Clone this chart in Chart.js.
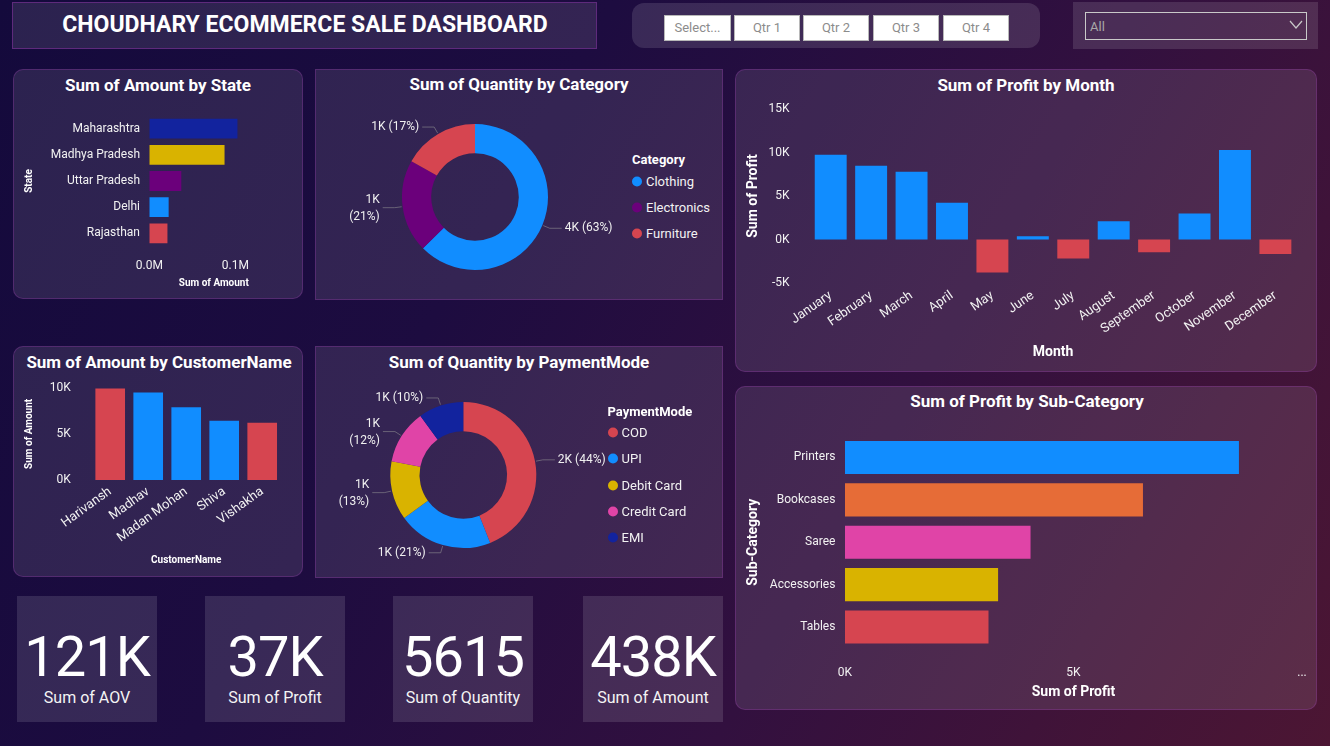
<!DOCTYPE html>
<html><head><meta charset="utf-8">
<script src="https://cdn.jsdelivr.net/npm/chart.js@4.4.1/dist/chart.umd.min.js"></script>
<style>
html,body{margin:0;padding:0}
body{width:1330px;height:746px;overflow:hidden;position:relative;font-family:Roboto,"Liberation Sans",sans-serif;color:#fff;
background:linear-gradient(120deg,#140a3c 0%,#1d0c40 35%,#32103f 65%,#4c1633 100%);}
.panel{position:absolute;background:rgba(255,255,255,0.1);border:1px solid rgba(150,60,170,0.35);border-radius:10px;box-sizing:border-box}
.t{position:absolute;transform:translate(-50%,-50%);white-space:nowrap}
.ptitle{font-size:17px;font-weight:700;color:#fff}
canvas{position:absolute}
.btn{position:absolute;top:15px;height:26px;width:66px;background:#fff;border:1px solid #b8b8b8;box-sizing:border-box;color:#8c8c8c;font-size:13px;line-height:24px;text-align:center}
.lg{position:absolute;white-space:nowrap;font-size:13px;color:#f2f2f2;transform:translateY(-50%)}
.lg i{display:inline-block;width:10px;height:10px;border-radius:50%;vertical-align:-1px;margin-right:4px}
.lgt{position:absolute;white-space:nowrap;font-size:13px;font-weight:700;color:#fff;transform:translateY(-50%)}
.card{position:absolute;top:596px;height:126px;width:140px;background:rgba(255,255,255,0.12)}
.kv{position:absolute;left:0;right:0;top:28px;text-align:center;font-size:56px;letter-spacing:-1px;line-height:66px;color:#fff}
.kl{position:absolute;left:0;right:0;top:92px;text-align:center;font-size:16px;line-height:20px;color:#f4f4f4}
</style></head><body>

<!-- header -->
<div style="position:absolute;left:12px;top:2px;width:585px;height:47px;background:rgba(255,255,255,0.1);border:1px solid #5e2a7c;box-sizing:border-box"></div>
<div class="t" style="left:305px;top:24px;font-size:23px;font-weight:700">CHOUDHARY ECOMMERCE SALE DASHBOARD</div>

<div class="panel" style="left:632px;top:3px;width:408px;height:45px;border-radius:12px;border:none;background:rgba(255,255,255,0.12)"></div>
<div class="btn" style="left:664px;width:67px">Select...</div>
<div class="btn" style="left:734px">Qtr 1</div>
<div class="btn" style="left:803px">Qtr 2</div>
<div class="btn" style="left:873px">Qtr 3</div>
<div class="btn" style="left:943px">Qtr 4</div>

<div style="position:absolute;left:1073px;top:2px;width:245px;height:47px;background:rgba(255,255,255,0.12)"></div>
<div style="position:absolute;left:1085px;top:12px;width:222px;height:28px;border:1px solid #c9c9c9;box-sizing:border-box"></div>
<div style="position:absolute;left:1090px;top:19px;font-size:13px;color:#a8a8a8">All</div>
<svg style="position:absolute;left:1289px;top:20px" width="14" height="10"><polyline points="1,1 7,8 13,1" fill="none" stroke="#c8c8c8" stroke-width="1.2"/></svg>

<!-- panels -->
<div class="panel" style="left:13px;top:69px;width:290px;height:230px"></div>
<div class="panel" style="left:315px;top:69px;width:408px;height:231px;border-radius:0"></div>
<div class="panel" style="left:735px;top:69px;width:582px;height:303px"></div>
<div class="panel" style="left:13px;top:346px;width:290px;height:231px"></div>
<div class="panel" style="left:315px;top:346px;width:408px;height:232px;border-radius:0"></div>
<div class="panel" style="left:735px;top:386px;width:582px;height:324px"></div>

<div class="t ptitle" style="left:158px;top:85px">Sum of Amount by State</div>
<div class="t ptitle" style="left:519px;top:84px">Sum of Quantity by Category</div>
<div class="t ptitle" style="left:1026px;top:85px">Sum of Profit by Month</div>
<div class="t ptitle" style="left:159px;top:362px">Sum of Amount by CustomerName</div>
<div class="t ptitle" style="left:519px;top:362px">Sum of Quantity by PaymentMode</div>
<div class="t ptitle" style="left:1027px;top:401px">Sum of Profit by Sub-Category</div>

<canvas id="cState" width="290" height="194" style="left:13px;top:105px"></canvas>
<canvas id="cCat" width="315" height="200" style="left:315px;top:100px"></canvas>
<canvas id="cMonth" width="582" height="277" style="left:735px;top:95px"></canvas>
<canvas id="cCust" width="290" height="202" style="left:13px;top:375px"></canvas>
<canvas id="cPay" width="408" height="203" style="left:315px;top:375px"></canvas>
<canvas id="cSub" width="582" height="290" style="left:735px;top:420px"></canvas>

<div id="lgCat"></div>
<div id="lgPay"></div>

<div class="card" style="left:17px"><div class="kv" id="k0"></div><div class="kl" id="l0"></div></div>
<div class="card" style="left:205px"><div class="kv" id="k1"></div><div class="kl" id="l1"></div></div>
<div class="card" style="left:393px"><div class="kv" id="k2"></div><div class="kl" id="l2"></div></div>
<div class="card" style="left:583px"><div class="kv" id="k3"></div><div class="kl" id="l3"></div></div>

<script>
// ---------- DATA ----------
const states = ['Maharashtra','Madhya Pradesh','Uttar Pradesh','Delhi','Rajasthan'];
const stateAmount = [102500, 87500, 37200, 22500, 21100];
const stateTicks = [0, 100000];

const categories = ['Clothing','Electronics','Furniture'];
const categoryQty = [3516, 1154, 945];

const months = ['January','February','March','April','May','June','July','August','September','October','November','December'];
const monthProfit = [9730, 8490, 7800, 4210, -3790, 380, -2170, 2090, -1470, 2980, 10280, -1660];

const customers = ['Harivansh','Madhav','Madan Mohan','Shiva','Vishakha'];
const customerAmount = [9902, 9470, 7870, 6420, 6200];

const payModes = ['COD','UPI','Debit Card','Credit Card','EMI'];
const payQty = [2471, 1179, 730, 674, 561];

const subCats = ['Printers','Bookcases','Saree','Accessories','Tables'];
const subProfit = [8620, 6520, 4060, 3350, 3140];

const kpiLabels = ['Sum of AOV','Sum of Profit','Sum of Quantity','Sum of Amount'];
const kpiValues = ['121K','37K','5615','438K'];

// ---------- STYLE ----------
const BLUE='#118DFF', NAVY='#12239E', ORANGE='#E66C37', PURPLE='#6B007B', PINK='#E044A7', YELLOW='#D9B300', RED='#D64550';
const TXT='#f2f2f2';
const stateColors=[NAVY,YELLOW,PURPLE,BLUE,RED];
const catColors=[BLUE,PURPLE,RED];
const custColors=[RED,BLUE,BLUE,BLUE,RED];
const payColors=[RED,BLUE,YELLOW,PINK,NAVY];
const subColors=[BLUE,ORANGE,PINK,YELLOW,RED];

Chart.defaults.font.family='Roboto, "Liberation Sans", sans-serif';
Chart.defaults.color=TXT;

const kFmt = v => (v/1000)+'K';
// tick gap done with an invisible tick length so it does not inflate layout padding
const gap = n => ({display:false, drawTicks:true, tickLength:n});
const noBorder = {display:false};
const base = {responsive:false, animation:false, plugins:{legend:{display:false}, tooltip:{enabled:false}}};

kpiValues.forEach((v,i)=>{document.getElementById('k'+i).textContent=v;document.getElementById('l'+i).textContent=kpiLabels[i];});

// ---------- donut label plugin ----------
const donutLabels = {
  id:'donutLabels',
  afterDatasetsDraw(chart){
    const {ctx}=chart;
    const meta=chart.getDatasetMeta(0);
    const data=chart.data.datasets[0].data;
    const total=data.reduce((a,b)=>a+b,0);
    ctx.save();
    ctx.font='12px Roboto, "Liberation Sans", sans-serif';
    ctx.fillStyle='#f0f0f0';
    ctx.strokeStyle='rgba(150,150,150,0.55)';
    ctx.lineWidth=1;
    meta.data.forEach((arc,i)=>{
      const p=arc.getProps(['x','y','startAngle','endAngle','outerRadius'],true);
      const a=(p.startAngle+p.endAngle)/2;
      const c=Math.cos(a), s=Math.sin(a);
      const r=p.outerRadius;
      const x0=p.x+(r+1)*c, y0=p.y+(r+1)*s;
      const x1=p.x+(r+8)*c, y1=p.y+(r+8)*s;
      const side=c>=0?1:-1;
      const x2=x1+side*12;
      ctx.beginPath();ctx.moveTo(x0,y0);ctx.lineTo(x1,y1);ctx.lineTo(x2,y1);ctx.stroke();
      const v=Math.round(data[i]/1000)+'K';
      const pc='('+Math.round(data[i]/total*100)+'%)';
      ctx.textAlign=side>0?'left':'right';
      ctx.textBaseline='middle';
      const tx=x2+side*3;
      if(side<0 && Math.abs(s)<0.77){
        ctx.fillText(v,tx,y1-8);
        ctx.fillText(pc,tx,y1+9);
      } else {
        ctx.fillText(v+' '+pc,tx,y1);
      }
    });
    ctx.restore();
  }
};

// ---------- State ----------
new Chart(document.getElementById('cState'),{
  type:'bar',
  data:{labels:states,datasets:[{data:stateAmount,backgroundColor:stateColors,borderWidth:0,barPercentage:0.76,categoryPercentage:1}]},
  options:{...base,indexAxis:'y',layout:{padding:{left:0,right:24.7,top:10.6,bottom:9.7}},
    scales:{
      x:{min:0,max:150000,grid:gap(12),border:noBorder,
        afterBuildTicks(s){s.ticks=stateTicks.map(v=>({value:v}));},
        ticks:{padding:0,color:TXT,font:{size:12},callback:v=>(v/1e6).toFixed(1)+'M'},
        title:{display:true,text:'Sum of Amount',color:'#fff',font:{size:10,weight:'bold'},padding:0},
        afterFit(s){s.height=42.9}},
      y:{grid:gap(9.3),border:noBorder,ticks:{padding:0,color:TXT,font:{size:12}},
        title:{display:true,text:'State',color:'#fff',font:{size:10,weight:'bold'},padding:{top:10.3,bottom:0}},
        afterFit(s){s.width=136.3}}
    }}
});

// ---------- Category donut ----------
new Chart(document.getElementById('cCat'),{
  type:'doughnut',
  data:{labels:categories,datasets:[{data:categoryQty,backgroundColor:catColors,borderWidth:0}]},
  options:{...base,cutout:'60%',layout:{padding:{left:87,right:82,top:24,bottom:30}}},
  plugins:[donutLabels]
});

// ---------- Month ----------
new Chart(document.getElementById('cMonth'),{
  type:'bar',
  data:{labels:months,datasets:[{data:monthProfit,backgroundColor:monthProfit.map(v=>v>=0?BLUE:RED),borderWidth:0,barPercentage:0.79,categoryPercentage:1}]},
  options:{...base,layout:{padding:{left:0,right:21.4,top:14,bottom:11}},
    scales:{
      x:{grid:gap(5),border:noBorder,
        ticks:{color:TXT,font:{size:13},minRotation:35,maxRotation:35,padding:0,autoSkip:false},
        title:{display:true,text:'Month',color:'#fff',font:{size:14,weight:'bold'},padding:0},
        afterFit(s){s.height=78}},
      y:{min:-5000,max:15000,grid:gap(21),border:noBorder,
        ticks:{stepSize:5000,color:TXT,font:{size:12},padding:0,callback:kFmt},
        title:{display:true,text:'Sum of Profit',color:'#fff',font:{size:14,weight:'bold'},padding:{top:9.6,bottom:0}},
        afterFit(s){s.width=75.5}}
    }}
});

// ---------- Customer ----------
new Chart(document.getElementById('cCust'),{
  type:'bar',
  data:{labels:customers,datasets:[{data:customerAmount,backgroundColor:custColors,borderWidth:0,barPercentage:0.78,categoryPercentage:1}]},
  options:{...base,layout:{padding:{left:0,right:21.8,top:12.7,bottom:10.3}},
    scales:{
      x:{grid:gap(4),border:noBorder,
        ticks:{color:TXT,font:{size:13},minRotation:36,maxRotation:36,padding:0,autoSkip:false},
        title:{display:true,text:'CustomerName',color:'#fff',font:{size:10,weight:'bold'},padding:0},
        afterFit(s){s.height=86.7}},
      y:{min:0,max:10000,grid:gap(20.5),border:noBorder,
        ticks:{stepSize:5000,color:TXT,font:{size:12},padding:0,callback:kFmt},
        title:{display:true,text:'Sum of Amount',color:'#fff',font:{size:10,weight:'bold'},padding:{top:10.3,bottom:0}},
        afterFit(s){s.width=78.2}}
    }}
});

// ---------- Payment donut ----------
new Chart(document.getElementById('cPay'),{
  type:'doughnut',
  data:{labels:payModes,datasets:[{data:payQty,backgroundColor:payColors,borderWidth:0}]},
  options:{...base,cutout:'60%',layout:{padding:{left:75.3,right:186.7,top:27,bottom:30}}},
  plugins:[donutLabels]
});

// ---------- Sub-Category ----------
new Chart(document.getElementById('cSub'),{
  type:'bar',
  data:{labels:subCats,datasets:[{data:subProfit,backgroundColor:subColors,borderWidth:0,barPercentage:0.78,categoryPercentage:1}]},
  options:{...base,indexAxis:'y',layout:{padding:{left:0,right:15,top:16.3,bottom:8.8}},
    scales:{
      x:{min:0,max:10000,grid:gap(17.3),border:noBorder,
        ticks:{stepSize:5000,padding:0,color:TXT,font:{size:12},callback:v=>v>=10000?'...':kFmt(v)},
        title:{display:true,text:'Sum of Profit',color:'#fff',font:{size:14,weight:'bold'},padding:0},
        afterFit(s){s.height=53}},
      y:{grid:gap(9.6),border:noBorder,ticks:{padding:0,color:TXT,font:{size:12}},
        title:{display:true,text:'Sub-Category',color:'#fff',font:{size:14,weight:'bold'},padding:{top:9.6,bottom:0}},
        afterFit(s){s.width=110}}
    }}
});

// ---------- HTML legends ----------
function legend(el,title,labels,colors,x,y0,first,step){
  let h='<div class="lgt" style="left:'+x+'px;top:'+y0+'px">'+title+'</div>';
  labels.forEach((l,i)=>{
    h+='<div class="lg" style="left:'+x+'px;top:'+(y0+first+step*i)+'px"><i style="background:'+colors[i]+'"></i>'+l+'</div>';
  });
  document.getElementById(el).innerHTML=h;
}
legend('lgCat','Category',categories,catColors,632,159,22,26);
legend('lgPay','PaymentMode',payModes,payColors,607.5,410.5,21.5,26.3);
</script>
</body></html>
